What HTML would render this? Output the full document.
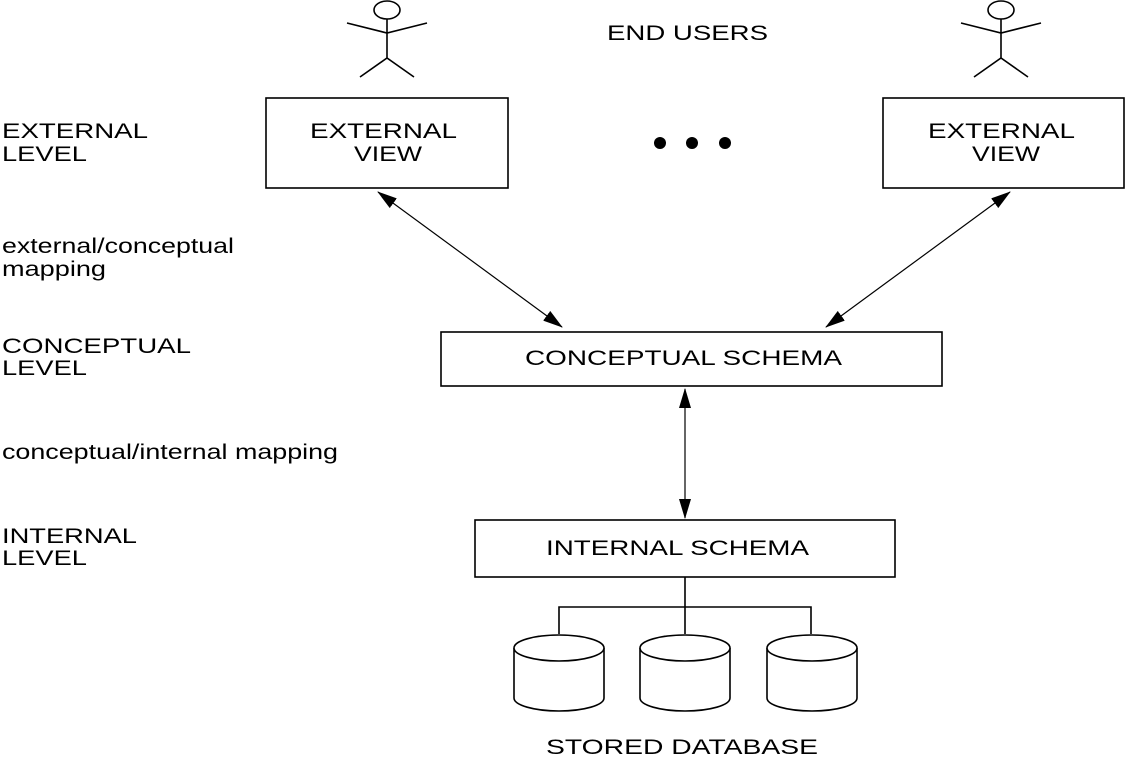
<!DOCTYPE html>
<html><head><style>
body{margin:0;background:#fff;}
svg{display:block;font-family:"Liberation Sans",sans-serif;}
text{font-size:21px;fill:#000;}
</style></head><body>
<svg width="1125" height="761" viewBox="0 0 1125 761">
<defs><marker id="a" markerWidth="20" markerHeight="12" refX="19" refY="6" orient="auto-start-reverse" markerUnits="userSpaceOnUse"><path d="M0,0 L20,6 L0,12 Z" fill="#000"/></marker></defs>
<g stroke="#000" stroke-width="1.6" fill="none">
<g id="sf"><ellipse cx="387" cy="10" rx="13" ry="9"/><path d="M387,19 V58 M347,23 L387,33 L427,23 M360,77 L387,58 L414,77"/></g>
<use href="#sf" x="614"/>
<rect x="266" y="98" width="242" height="90"/>
<rect x="883" y="98" width="241" height="90"/>
<rect x="441" y="332" width="501" height="54"/>
<rect x="475" y="520" width="420" height="57"/>
<line x1="378" y1="192" x2="562" y2="327" stroke-width="1.2" marker-start="url(#a)" marker-end="url(#a)"/>
<line x1="1010" y1="192" x2="826" y2="327" stroke-width="1.2" marker-start="url(#a)" marker-end="url(#a)"/>
<line x1="685" y1="389" x2="685" y2="518" stroke-width="1.2" marker-start="url(#a)" marker-end="url(#a)"/>
<path d="M685,577 V634 M559,634 V607 H811 V634"/>
<g id="cy"><path d="M514,648 V698 A45,13 0 0 0 604,698 V648"/><ellipse cx="559" cy="648" rx="45" ry="13" fill="#fff"/></g>
<use href="#cy" x="126"/><use href="#cy" x="253"/>
</g>
<g fill="#000"><circle cx="660" cy="143" r="6"/><circle cx="692" cy="143" r="6"/><circle cx="725" cy="143" r="6"/></g>
<g lengthAdjust="spacingAndGlyphs">
<text x="607" y="40" textLength="161" lengthAdjust="spacingAndGlyphs">END USERS</text>
<text x="310" y="138" textLength="147" lengthAdjust="spacingAndGlyphs">EXTERNAL</text>
<text x="354" y="161" textLength="68" lengthAdjust="spacingAndGlyphs">VIEW</text>
<text x="928" y="138" textLength="147" lengthAdjust="spacingAndGlyphs">EXTERNAL</text>
<text x="972" y="161" textLength="68" lengthAdjust="spacingAndGlyphs">VIEW</text>
<text x="525" y="365" textLength="317" lengthAdjust="spacingAndGlyphs">CONCEPTUAL SCHEMA</text>
<text x="546" y="555" textLength="263" lengthAdjust="spacingAndGlyphs">INTERNAL SCHEMA</text>
<text x="546" y="754" textLength="272" lengthAdjust="spacingAndGlyphs">STORED DATABASE</text>
<text x="2" y="138" textLength="146" lengthAdjust="spacingAndGlyphs">EXTERNAL</text>
<text x="2" y="161" textLength="85" lengthAdjust="spacingAndGlyphs">LEVEL</text>
<text x="2" y="253" textLength="232" lengthAdjust="spacingAndGlyphs">external/conceptual</text>
<text x="2" y="276" textLength="104" lengthAdjust="spacingAndGlyphs">mapping</text>
<text x="2" y="353" textLength="189" lengthAdjust="spacingAndGlyphs">CONCEPTUAL</text>
<text x="2" y="375" textLength="85" lengthAdjust="spacingAndGlyphs">LEVEL</text>
<text x="2" y="459" textLength="336" lengthAdjust="spacingAndGlyphs">conceptual/internal mapping</text>
<text x="2" y="543" textLength="135" lengthAdjust="spacingAndGlyphs">INTERNAL</text>
<text x="2" y="565" textLength="85" lengthAdjust="spacingAndGlyphs">LEVEL</text>
</g>
</svg>
</body></html>
